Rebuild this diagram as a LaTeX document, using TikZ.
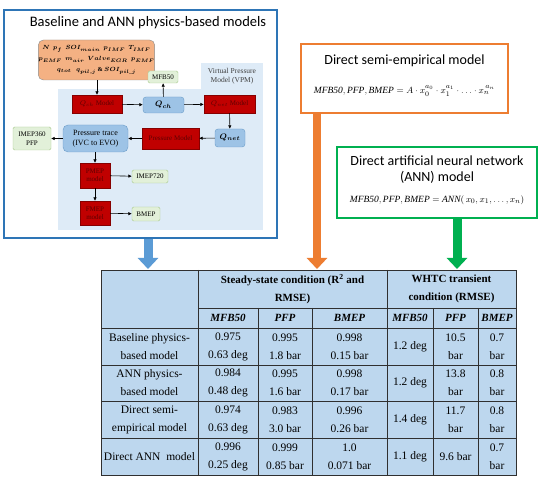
\documentclass[tikz,border=0pt]{standalone}
\usepackage{fontspec}
\setmainfont{Liberation Serif}
\newfontfamily\calib{Carlito}
\usetikzlibrary{arrows.meta}
\definecolor{frameblue}{HTML}{2E75B6}
\definecolor{arrblue}{HTML}{5B9BD5}
\definecolor{orng}{HTML}{ED7D31}
\definecolor{grn}{HTML}{00B050}
\definecolor{vpm}{HTML}{DEEBF7}
\definecolor{tbl}{HTML}{BDD7EE}
\definecolor{inorange}{HTML}{F4B183}
\definecolor{redbox}{HTML}{C00000}
\definecolor{redtxt}{HTML}{5E0000}
\definecolor{lgreen}{HTML}{E2F0D9}
\definecolor{lgreenb}{HTML}{A9C98E}
\definecolor{lblue}{HTML}{9DC3E6}
\definecolor{lblueb}{HTML}{6A9BC8}
\definecolor{tline}{HTML}{303030}
\begin{document}
\begin{tikzpicture}[x=1pt,y=-1pt,
  redm/.style={fill=redbox,draw=redbox!70!black,text=redtxt,inner sep=0pt,align=center,font=\fontsize{7}{8}\selectfont},
  bluem/.style={fill=lblue,draw=lblueb,rounded corners=3pt,inner sep=0pt,align=center,font=\fontsize{8}{9.5}\selectfont},
  grnm/.style={fill=lgreen,draw=lgreenb,rounded corners=1.5pt,inner sep=0pt,align=center,font=\fontsize{7}{8.5}\selectfont},
  conn/.style={-{Latex[length=3.5pt,width=3.5pt]},line width=0.6pt,black},
  bigarr/.style={line width=9pt,-{Triangle[width=20pt,length=11pt]}},
  cell/.style={inner sep=0pt,align=center,font=\fontsize{11.5}{18}\selectfont},
  hcell/.style={cell,font=\fontsize{11}{18}\selectfont\bfseries},
  colh/.style={cell,font=\fontsize{11}{13}\selectfont\bfseries\itshape},
  frame/.style={inner sep=0pt,fill=white}
]
\useasboundingbox (0,0) rectangle (550,481);
\fill[white] (0,0) rectangle (550,481);

% ---- blue frame
\node[frame,draw=frameblue,line width=2.5pt,minimum width=273pt,minimum height=228pt] (bframe) at (140.5,124) {};
\node[font=\calib\fontsize{14.5}{17}\selectfont] (btitle) at (148,23) {Baseline and ANN physics-based models};

% VPM region
\fill[vpm] (58,89) rectangle (263,230);
\fill[vpm] (201,63) rectangle (263,89);
\node[align=center,font=\fontsize{7.5}{9}\selectfont,text=black!75] (vpmlab) at (232,76) {Virtual Pressure\\Model (VPM)};

% inputs
\node[fill=inorange,draw=black!45,rounded corners=5pt,minimum width=107pt,minimum height=40pt,inner sep=0pt,align=center,font=\fontsize{6.2}{11}\selectfont\boldmath] (inp) at (96.5,60)
 {$N\ \ p_f\ \ SOI_{main}\ \ p_{IMF}\ \ T_{IMF}$\\ $p_{EMF}\ \ m_{air}\ \ Valve_{EGR}\ \ p_{EMF}$\\ $q_{tot}\ \ \ q_{pil,j}\ \&\ SOI_{pil\_j}$};

\node[grnm,minimum width=30pt,minimum height=12pt] (mfb) at (163,77) {MFB50};
\node[redm,minimum width=50pt,minimum height=18pt] (qchm) at (97,104) {$Q_{ch}$ Model};
\node[bluem,minimum width=41pt,minimum height=16pt,font=\fontsize{8}{9}\selectfont\boldmath] (qch) at (163.5,105) {$Q_{ch}$};
\node[redm,minimum width=51pt,minimum height=18pt] (qnetm) at (229.5,104) {$Q_{net}$ Model};
\node[bluem,minimum width=30pt,minimum height=18pt,font=\fontsize{8}{9}\selectfont\boldmath] (qnet) at (230,138) {$Q_{net}$};
\node[redm,minimum width=57pt,minimum height=21pt] (presm) at (170.5,138.5) {Pressure Model};
\node[bluem,minimum width=65pt,minimum height=27pt,rounded corners=5pt] (prest) at (95.5,138.5) {Pressure trace\\(IVC to EVO)};
\node[grnm,minimum width=38pt,minimum height=23pt] (imep360) at (32,138.5) {IMEP360\\PFP};
\node[redm,minimum width=30pt,minimum height=25pt] (pmep) at (95,175.5) {PMEP\\model};
\node[grnm,minimum width=36pt,minimum height=13pt] (imep720) at (150,176.5) {IMEP720};
\node[redm,minimum width=30pt,minimum height=24pt] (fmep) at (95,213) {FMEP\\model};
\node[grnm,minimum width=28pt,minimum height=14pt] (bmep) at (146,214) {BMEP};

\draw[conn] (inp.south -| qchm.north) -- (qchm.north);
\draw[conn] (qchm) -- (qch);
\draw[conn] (qch) -- (mfb);
\draw[conn] (qch) -- (qnetm);
\draw[conn] (qnetm) -- (qnet);
\draw[conn] (qnet) -- (presm);
\draw[conn] (presm) -- (prest);
\draw[conn] (prest) -- (imep360);
\draw[conn] (prest.south -| pmep.north) -- (pmep.north);
\draw[conn] (pmep) -- (imep720);
\draw[conn] (pmep) -- (fmep);
\draw[conn] (fmep) -- (bmep);

% ---- orange box
\node[frame,draw=orng,line width=2pt,minimum width=207pt,minimum height=69pt] (obox) at (404.5,78.5) {};
\node[font=\calib\fontsize{14}{16}\selectfont] (otitle) at (404.5,61) {Direct semi-empirical model};
\node[font=\fontsize{9.5}{12}\selectfont] (oform) at (404.5,91) {$\mathit{MFB50}, \mathit{PFP}, \mathit{BMEP} = A\cdot x_0^{a_0}\cdot x_1^{a_1}\cdot\ldots\cdot x_n^{\,a_n}$};

% ---- green box
\node[frame,draw=grn,line width=2pt,minimum width=200pt,minimum height=71pt] (gbox) at (437,182.5) {};
\node[align=center,font=\calib\fontsize{14}{16}\selectfont] (gtitle) at (437,170) {Direct artificial neural network\\(ANN) model};
\node[font=\fontsize{9.5}{11}\selectfont] (gform) at (437,200) {$\mathit{MFB50}, \mathit{PFP}, \mathit{BMEP} = \mathit{ANN}(\,x_0, x_1, \ldots, x_n)$};

% ---- table
\node[inner sep=0pt,minimum width=415pt,minimum height=205pt] (tab) at (308.5,372.5) {};
\fill[tbl] (101,270) rectangle (516,475);
\begin{scope}[tline,line width=0.8pt]
\draw (101,270) rectangle (516,475);
\draw (198,270) -- (198,475);
\draw (387,270) -- (387,475);
\draw (198,308) -- (516,308);
\draw (101,328) -- (516,328);
\draw (101,365) -- (516,365);
\draw (101,401) -- (516,401);
\draw (101,438) -- (516,438);
\draw (258,308) -- (258,475);
\draw (312,308) -- (312,475);
\draw (433,308) -- (433,475);
\draw (478,308) -- (478,475);
\end{scope}

\node[hcell] (h1) at (292.5,289) {Steady-state condition (R\textsuperscript{2} and\\RMSE)};
\node[hcell] (h2) at (451.5,289) {WHTC transient\\condition (RMSE)};
\node[colh] (c1) at (228,318) {MFB50};
\node[colh] (c2) at (285,318) {PFP};
\node[colh] (c3) at (349.5,318) {BMEP};
\node[colh] (c4) at (410,318) {MFB50};
\node[colh] (c5) at (455.5,318) {PFP};
\node[colh] (c6) at (497,318) {BMEP};

% row 1
\node[cell] (r1a) at (149.5,346.5) {Baseline physics-\\based model};
\node[cell] (r1b) at (228,346.5) {0.975\\0.63 deg};
\node[cell] (r1c) at (285,346.5) {0.995\\1.8 bar};
\node[cell] (r1d) at (349.5,346.5) {0.998\\0.15 bar};
\node[cell] (r1e) at (410,346.5) {1.2 deg};
\node[cell] (r1f) at (455.5,346.5) {10.5\\bar};
\node[cell] (r1g) at (497,346.5) {0.7\\bar};
% row 2
\node[cell] (r2a) at (149.5,383) {ANN physics-\\based model};
\node[cell] (r2b) at (228,383) {0.984\\0.48 deg};
\node[cell] (r2c) at (285,383) {0.995\\1.6 bar};
\node[cell] (r2d) at (349.5,383) {0.998\\0.17 bar};
\node[cell] (r2e) at (410,383) {1.2 deg};
\node[cell] (r2f) at (455.5,383) {13.8\\bar};
\node[cell] (r2g) at (497,383) {0.8\\bar};
% row 3
\node[cell] (r3a) at (149.5,419.5) {Direct semi-\\empirical model};
\node[cell] (r3b) at (228,419.5) {0.974\\0.63 deg};
\node[cell] (r3c) at (285,419.5) {0.983\\3.0 bar};
\node[cell] (r3d) at (349.5,419.5) {0.996\\0.26 bar};
\node[cell] (r3e) at (410,419.5) {1.4 deg};
\node[cell] (r3f) at (455.5,419.5) {11.7\\bar};
\node[cell] (r3g) at (497,419.5) {0.8\\bar};
% row 4
\node[cell] (r4a) at (149.5,456.5) {Direct ANN\ \ model};
\node[cell] (r4b) at (228,456.5) {0.996\\0.25 deg};
\node[cell] (r4c) at (285,456.5) {0.999\\0.85 bar};
\node[cell] (r4d) at (349.5,456.5) {1.0\\0.071 bar};
\node[cell] (r4e) at (410,456.5) {1.1 deg};
\node[cell] (r4f) at (455.5,456.5) {9.6 bar};
\node[cell] (r4g) at (497,456.5) {0.7\\bar};

% ---- big arrows
\coordinate (ba) at (148,269);
\coordinate (oa) at (317,269);
\coordinate (ga) at (457,269);
\draw[bigarr,arrblue] (bframe.south -| ba) -- (ba);
\draw[bigarr,orng,line width=8pt] (obox.south -| oa) -- (oa);
\draw[bigarr,grn] (gbox.south -| ga) -- (ga);
\end{tikzpicture}
\end{document}
